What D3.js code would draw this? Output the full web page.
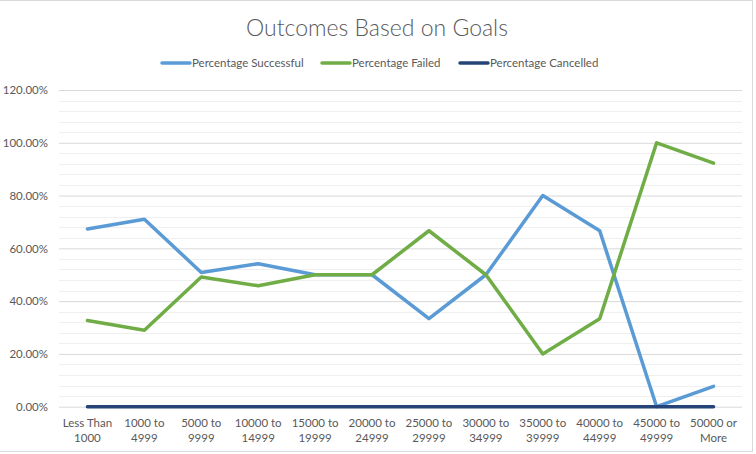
<!DOCTYPE html>
<html>
<head>
<meta charset="utf-8">
<script src="https://cdnjs.cloudflare.com/ajax/libs/d3/7.8.5/d3.min.js"></script>
<style>
  html, body { margin: 0; padding: 0; background: #fff; }
  svg { display: block; }
</style>
</head>
<body>
<svg id="chart" width="756" height="454"></svg>
<script>
// ----------
// chart data
// ----------

var goalRanges = [
  ['Less Than', '1000'], ['1000 to', '4999'], ['5000 to', '9999'], ['10000 to', '14999'],
  ['15000 to', '19999'], ['20000 to', '24999'], ['25000 to', '29999'], ['30000 to', '34999'],
  ['35000 to', '39999'], ['40000 to', '44999'], ['45000 to', '49999'], ['50000 or', 'More']
];
var pctSuccessful = [0.6736, 0.7105, 0.5085, 0.5417, 0.50, 0.50, 0.3333, 0.50, 0.80, 0.6667, 0.00, 0.0769];
var pctFailed     = [0.3264, 0.2895, 0.4915, 0.4583, 0.50, 0.50, 0.6667, 0.50, 0.20, 0.3333, 1.00, 0.9231];
var pctCancelled  = [0, 0, 0, 0, 0, 0, 0, 0, 0, 0, 0, 0];

var seriesNames = ['Percentage Successful', 'Percentage Failed', 'Percentage Cancelled'];
var yTicks = [0, 0.2, 0.4, 0.6, 0.8, 1.0, 1.2];

var colors = ['#5b9bd5', '#70ad47', '#264478'];
var fontFamily = 'Lato, "Open Sans", sans-serif';

var svg = d3.select('#chart');

// chart border
svg.append('rect')
  .attr('x', -1)
  .attr('y', 0.5)
  .attr('width', 753.5)
  .attr('height', 451)
  .attr('fill', '#fff')
  .attr('stroke', '#d9d9d9')
  .attr('stroke-width', 1);

// ------
// scales
// ------

var plot = { left: 59, right: 742, top: 90, bottom: 406.7 };

var x = d3.scalePoint()
  .domain(d3.range(goalRanges.length))
  .range([plot.left, plot.right])
  .padding(0.5);

var y = d3.scaleLinear()
  .domain([0, 1.2])
  .range([plot.bottom, plot.top]);

// ----------
// grid lines
// ----------

var minorTicks = d3.range(0, 1.2001, 0.04).filter(function (t) {
  return Math.abs(Math.round(t / 0.2) * 0.2 - t) > 0.001;
});

svg.append('g')
  .attr('class', 'minor-grid')
  .selectAll('line')
  .data(minorTicks)
  .enter().append('line')
  .attr('x1', plot.left)
  .attr('x2', plot.right)
  .attr('y1', function (d) { return Math.round(y(d)) + 0.5; })
  .attr('y2', function (d) { return Math.round(y(d)) + 0.5; })
  .attr('stroke', '#efefef')
  .attr('stroke-width', 1);

var yAxis = d3.axisLeft(y)
  .tickValues(yTicks)
  .tickFormat(d3.format('.2%'))
  .tickSize(-(plot.right - plot.left))
  .tickPadding(11);

var yAxisG = svg.append('g')
  .attr('class', 'y-axis')
  .attr('transform', 'translate(' + plot.left + ',0)')
  .call(yAxis);

yAxisG.select('.domain').remove();
yAxisG.selectAll('.tick line')
  .attr('stroke', '#d9d9d9')
  .attr('stroke-width', 1);
yAxisG.selectAll('.tick text')
  .attr('font-family', fontFamily)
  .attr('font-size', '11.5px')
  .attr('fill', '#595959');

// x axis category labels (two lines each)
var xLabels = svg.append('g')
  .attr('class', 'x-axis')
  .selectAll('text')
  .data(goalRanges)
  .enter().append('text')
  .attr('x', function (d, i) { return x(i); })
  .attr('y', 427)
  .attr('text-anchor', 'middle')
  .attr('font-family', fontFamily)
  .attr('font-size', '11.5px')
  .attr('fill', '#595959');

xLabels.append('tspan')
  .attr('x', function (d, i) { return x(i); })
  .text(function (d) { return d[0]; });
xLabels.append('tspan')
  .attr('x', function (d, i) { return x(i); })
  .attr('dy', 14.5)
  .text(function (d) { return d[1]; });

// ------
// series
// ------

var line = d3.line()
  .x(function (d, i) { return x(i); })
  .y(function (d) { return y(d); });

var seriesData = [pctSuccessful, pctFailed, pctCancelled];

svg.append('g')
  .attr('class', 'series')
  .selectAll('path')
  .data(seriesData)
  .enter().append('path')
  .attr('d', line)
  .attr('fill', 'none')
  .attr('stroke', function (d, i) { return colors[i]; })
  .attr('stroke-width', 3.5)
  .attr('stroke-linejoin', 'round')
  .attr('stroke-linecap', 'round');

// -----
// title
// -----

svg.append('text')
  .attr('x', 377)
  .attr('y', 36)
  .attr('text-anchor', 'middle')
  .attr('font-family', fontFamily)
  .attr('font-weight', 300)
  .attr('font-size', '23px')
  .attr('fill', '#595959')
  .text('Outcomes Based on Goals');

// ------
// legend
// ------

var legendX = [162, 322, 460];

var legend = svg.append('g')
  .attr('class', 'legend')
  .selectAll('g')
  .data(seriesNames)
  .enter().append('g')
  .attr('transform', function (d, i) { return 'translate(' + legendX[i] + ',63)'; });

legend.append('line')
  .attr('x1', 0)
  .attr('x2', 28)
  .attr('stroke', function (d, i) { return colors[i]; })
  .attr('stroke-width', 3.5)
  .attr('stroke-linecap', 'round');

legend.append('text')
  .attr('x', 30)
  .attr('y', 4)
  .attr('font-family', fontFamily)
  .attr('font-size', '11.5px')
  .attr('fill', '#595959')
  .text(function (d) { return d; });
</script>
</body>
</html>
